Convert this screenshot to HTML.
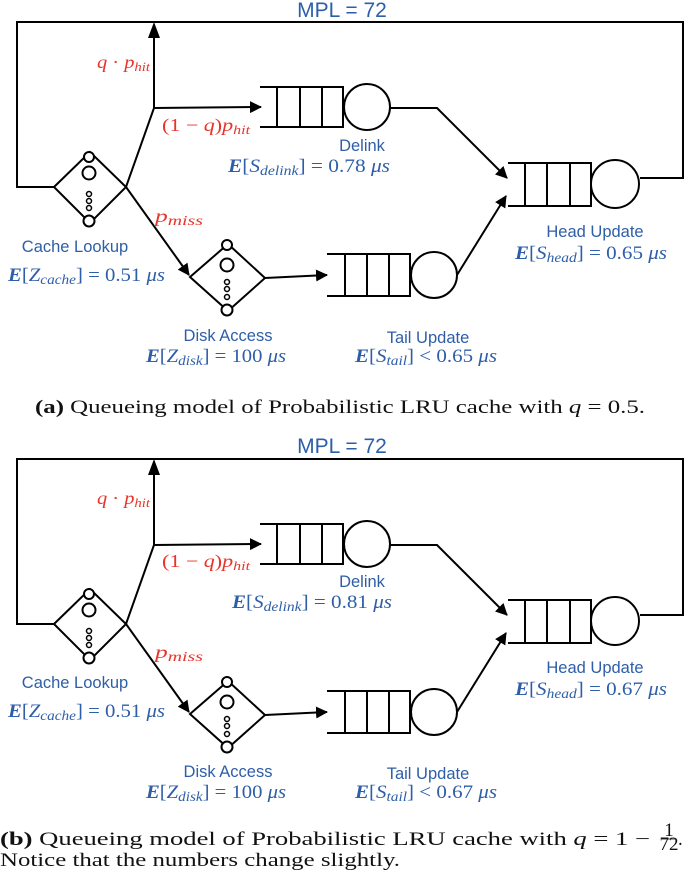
<!DOCTYPE html>
<html><head><meta charset="utf-8"><style>
html,body{margin:0;padding:0;background:#fff;width:685px;height:876px;overflow:hidden}
svg{display:block}
.b{fill:#2e5ea8;font-family:"Liberation Sans",sans-serif;font-size:16.5px}
.m{fill:#2e5ea8;font-family:"Liberation Serif",serif;font-size:19px}
.r{fill:#e8342a;font-family:"Liberation Serif",serif;font-size:18px}
.cap{font-family:"Liberation Serif",serif;font-size:19px;fill:#111}
</style></head><body>
<svg width="685" height="876" viewBox="0 0 685 876" xmlns="http://www.w3.org/2000/svg">
<defs>
<marker id="ar" markerWidth="12" markerHeight="12" refX="11" refY="6" orient="auto" markerUnits="userSpaceOnUse">
<path d="M0,0 L12,6 L0,12 z" fill="#000"/></marker>
<g id="dg" fill="none" stroke="#000" stroke-width="2">
<polyline points="54,187 17,187 17,22 683,22 683,178 640,178"/>
<polyline points="126,187 154,108 154,33"/>
<path d="M148,38 L154,22 L160,38 z" fill="#000" stroke="none"/>
<line x1="154" y1="108" x2="261" y2="107" marker-end="url(#ar)"/>
<line x1="126" y1="187" x2="189" y2="275" marker-end="url(#ar)"/>
<line x1="265" y1="278" x2="327" y2="275" marker-end="url(#ar)"/>
<polyline points="390,108 437,108 507,178" marker-end="url(#ar)"/>
<line x1="457" y1="275" x2="506" y2="196" marker-end="url(#ar)"/>
<polygon points="54,187 90,152 126,187 90,223" fill="#fff"/>
<circle cx="89" cy="157" r="5" fill="#fff"/><circle cx="89" cy="173" r="6.5" fill="#fff"/>
<circle cx="89" cy="194" r="2.5" stroke-width="1.5"/><circle cx="89" cy="201" r="2.5" stroke-width="1.5"/><circle cx="89" cy="208" r="2.5" stroke-width="1.5"/>
<circle cx="89" cy="221" r="5.5" fill="#fff"/>
<polygon points="190,277 228,244 265,278 228,311" fill="#fff"/>
<circle cx="227" cy="245" r="5" fill="#fff"/><circle cx="227" cy="265" r="6.5" fill="#fff"/>
<circle cx="227" cy="282" r="2.5" stroke-width="1.5"/><circle cx="227" cy="289" r="2.5" stroke-width="1.5"/><circle cx="227" cy="297" r="2.5" stroke-width="1.5"/>
<circle cx="227" cy="310" r="5.5" fill="#fff"/>
<polyline points="260,87 343,87 343,127 260,127"/>
<line x1="277" y1="87" x2="277" y2="127"/><line x1="300" y1="87" x2="300" y2="127"/><line x1="322" y1="87" x2="322" y2="127"/>
<circle cx="367" cy="107" r="23"/>
<polyline points="508,163 591,163 591,206 508,206"/>
<line x1="525" y1="163" x2="525" y2="206"/><line x1="547" y1="163" x2="547" y2="206"/><line x1="570" y1="163" x2="570" y2="206"/>
<circle cx="615" cy="184" r="24"/>
<polyline points="327,254 410,254 410,296 327,296"/>
<line x1="345" y1="254" x2="345" y2="296"/><line x1="367" y1="254" x2="367" y2="296"/><line x1="389" y1="254" x2="389" y2="296"/>
<circle cx="434" cy="275" r="23"/>
</g>
</defs>

<use href="#dg"/>
<use href="#dg" transform="translate(0,437)"/>

<g id="la">
<text x="342" y="17" text-anchor="middle" class="b" style="font-size:21px">MPL = 72</text>
<text x="97" y="68" class="r" textLength="53" lengthAdjust="spacingAndGlyphs"><tspan font-style="italic">q</tspan> · <tspan font-style="italic">p</tspan><tspan font-style="italic" font-size="13" dy="3">hit</tspan></text>
<text x="162" y="131" class="r" textLength="88" lengthAdjust="spacingAndGlyphs">(1 − <tspan font-style="italic">q</tspan>)<tspan font-style="italic">p</tspan><tspan font-style="italic" font-size="13" dy="3">hit</tspan></text>
<text x="155" y="222" class="r" font-style="italic" textLength="48" lengthAdjust="spacingAndGlyphs">p<tspan font-size="14" dy="3">miss</tspan></text>
<text x="75" y="252" text-anchor="middle" class="b">Cache Lookup</text>
<text x="362" y="151" text-anchor="middle" class="b">Delink</text>
<text x="595" y="237" text-anchor="middle" class="b">Head Update</text>
<text x="228" y="341" text-anchor="middle" class="b">Disk Access</text>
<text x="428" y="343" text-anchor="middle" class="b">Tail Update</text>
</g>
<use href="#la" transform="translate(0,436)"/>

<g id="ma">
<text x="8" y="281" class="m" textLength="157" lengthAdjust="spacingAndGlyphs"><tspan font-weight="bold" font-style="italic">E</tspan>[<tspan font-style="italic">Z</tspan><tspan font-style="italic" font-size="14" dy="3">cache</tspan><tspan dy="-3">] = 0.51 </tspan><tspan font-style="italic">μs</tspan></text>
<text x="228" y="172" class="m" textLength="162" lengthAdjust="spacingAndGlyphs"><tspan font-weight="bold" font-style="italic">E</tspan>[<tspan font-style="italic">S</tspan><tspan font-style="italic" font-size="14" dy="3">delink</tspan><tspan dy="-3">] = 0.78 </tspan><tspan font-style="italic">μs</tspan></text>
<text x="515" y="259" class="m" textLength="152" lengthAdjust="spacingAndGlyphs"><tspan font-weight="bold" font-style="italic">E</tspan>[<tspan font-style="italic">S</tspan><tspan font-style="italic" font-size="14" dy="3">head</tspan><tspan dy="-3">] = 0.65 </tspan><tspan font-style="italic">μs</tspan></text>
<text x="146" y="362" class="m" textLength="140" lengthAdjust="spacingAndGlyphs"><tspan font-weight="bold" font-style="italic">E</tspan>[<tspan font-style="italic">Z</tspan><tspan font-style="italic" font-size="14" dy="3">disk</tspan><tspan dy="-3">] = 100 </tspan><tspan font-style="italic">μs</tspan></text>
<text x="355" y="362" class="m" textLength="142" lengthAdjust="spacingAndGlyphs"><tspan font-weight="bold" font-style="italic">E</tspan>[<tspan font-style="italic">S</tspan><tspan font-style="italic" font-size="14" dy="3">tail</tspan><tspan dy="-3">] &lt; 0.65 </tspan><tspan font-style="italic">μs</tspan></text>
</g>
<text x="8" y="717" class="m" textLength="157" lengthAdjust="spacingAndGlyphs"><tspan font-weight="bold" font-style="italic">E</tspan>[<tspan font-style="italic">Z</tspan><tspan font-style="italic" font-size="14" dy="3">cache</tspan><tspan dy="-3">] = 0.51 </tspan><tspan font-style="italic">μs</tspan></text>
<text x="232" y="608" class="m" textLength="160" lengthAdjust="spacingAndGlyphs"><tspan font-weight="bold" font-style="italic">E</tspan>[<tspan font-style="italic">S</tspan><tspan font-style="italic" font-size="14" dy="3">delink</tspan><tspan dy="-3">] = 0.81 </tspan><tspan font-style="italic">μs</tspan></text>
<text x="515" y="695" class="m" textLength="152" lengthAdjust="spacingAndGlyphs"><tspan font-weight="bold" font-style="italic">E</tspan>[<tspan font-style="italic">S</tspan><tspan font-style="italic" font-size="14" dy="3">head</tspan><tspan dy="-3">] = 0.67 </tspan><tspan font-style="italic">μs</tspan></text>
<text x="146" y="798" class="m" textLength="140" lengthAdjust="spacingAndGlyphs"><tspan font-weight="bold" font-style="italic">E</tspan>[<tspan font-style="italic">Z</tspan><tspan font-style="italic" font-size="14" dy="3">disk</tspan><tspan dy="-3">] = 100 </tspan><tspan font-style="italic">μs</tspan></text>
<text x="355" y="798" class="m" textLength="142" lengthAdjust="spacingAndGlyphs"><tspan font-weight="bold" font-style="italic">E</tspan>[<tspan font-style="italic">S</tspan><tspan font-style="italic" font-size="14" dy="3">tail</tspan><tspan dy="-3">] &lt; 0.67 </tspan><tspan font-style="italic">μs</tspan></text>

<text x="35" y="413" class="cap" textLength="610" lengthAdjust="spacingAndGlyphs"><tspan font-weight="bold">(a)</tspan> Queueing model of Probabilistic LRU cache with <tspan font-style="italic">q</tspan> = 0.5.</text>
<text x="0" y="845" class="cap" textLength="650" lengthAdjust="spacingAndGlyphs"><tspan font-weight="bold">(b)</tspan> Queueing model of Probabilistic LRU cache with <tspan font-style="italic">q</tspan> = 1 −</text>
<text x="669" y="836" class="cap" font-size="11" text-anchor="middle">1</text>
<line x1="662" y1="839" x2="676" y2="839" stroke="#111" stroke-width="0.8"/>
<text x="669" y="850" class="cap" font-size="11" text-anchor="middle">72</text>
<text x="678" y="845" class="cap">.</text>
<text x="0" y="866" class="cap" textLength="400" lengthAdjust="spacingAndGlyphs">Notice that the numbers change slightly.</text>
</svg>
</body></html>
